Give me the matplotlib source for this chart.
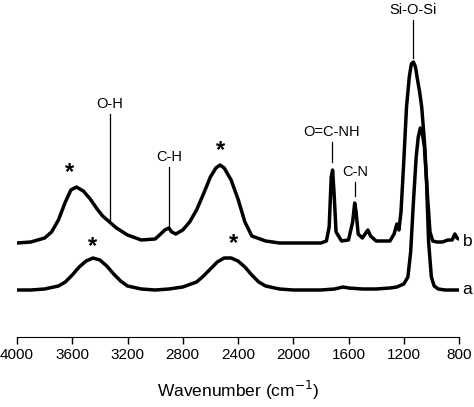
import numpy as np
import matplotlib.pyplot as plt

plt.rcParams['font.family'] = ['Liberation Sans', 'DejaVu Sans']

# spectrum a (lower curve), wavenumber vs. signal (arb. units)
wn_a = [4000, 3900, 3800, 3700, 3650, 3600, 3550, 3500, 3450, 3400, 3350, 3300, 3250, 3200,
        3100, 3000, 2900, 2800, 2700, 2650, 2600, 2550, 2500, 2450, 2400, 2350, 2300, 2250,
        2200, 2100, 2000, 1900, 1800, 1700, 1640, 1600, 1500, 1400, 1300, 1250, 1200, 1170,
        1150, 1130, 1110, 1095, 1080, 1065, 1050, 1035, 1020, 1000, 980, 950, 900, 850, 800]
ab_a = [72, 72, 73, 76, 80, 87, 95, 101, 104, 102, 96, 88, 81, 76,
        73, 72, 73, 75, 80, 86, 93, 100, 104, 104, 101, 95, 87, 80,
        76, 73, 72, 72, 72, 73, 75, 74, 73, 73, 74, 75, 78, 85,
        110, 160, 205, 225, 234, 228, 215, 180, 120, 85, 76, 73, 72, 72, 72]

# spectrum b (upper curve)
wn_b = [4000, 3900, 3800, 3750, 3700, 3650, 3610, 3570, 3520, 3470, 3420, 3380, 3330, 3280,
        3200, 3100, 3000, 2960, 2930, 2900, 2880, 2850, 2800, 2750, 2700, 2650, 2600, 2560,
        2530, 2500, 2450, 2400, 2350, 2300, 2200, 2100, 2000, 1900, 1800, 1760, 1740, 1725,
        1715, 1705, 1690, 1650, 1600, 1570, 1555, 1545, 1530, 1500, 1460, 1440, 1400, 1300,
        1270, 1250, 1235, 1220, 1200, 1180, 1160, 1145, 1130, 1115, 1100, 1085, 1070, 1050,
        1030, 1010, 990, 960, 920, 880, 850, 830, 815, 800]
ab_b = [119, 120, 124, 130, 142, 160, 172, 175, 171, 163, 153, 146, 140, 134,
        127, 122, 123, 128, 132, 134, 130, 128, 132, 140, 152, 168, 185, 194,
        197, 194, 182, 163, 140, 126, 121, 119, 119, 119, 119, 121, 135, 185,
        192, 170, 130, 121, 122, 140, 159, 150, 128, 124, 132, 126, 121, 121,
        128, 138, 132, 150, 200, 255, 285, 298, 300, 295, 282, 270, 255, 220,
        170, 130, 121, 120, 120, 122, 122, 128, 124, 123]

# annotations: label, wavenumber, label y, line top, line bottom
labels = ["O-H", "C-H", "O=C-NH", "C-N", "Si-O-Si"]
label_wn = [3330, 2900, 1720, 1550, 1130]
label_y = [258, 205, 230, 190, 352]
line_top = [248, 195, 220, 180, 342]
line_bot = [140, 134, 200, 166, 304]
star_wn = [3620, 2530, 3450, 2430]
star_y = [178, 200, 104, 107]

fig = plt.figure(figsize=(4.74, 4.07), dpi=100)
ax = fig.add_axes([17 / 474, 70 / 407, 442 / 474, 337 / 407])
ax.plot(wn_a, ab_a, color='black', lw=2.5)
ax.plot(wn_b, ab_b, color='black', lw=2.5)

for lab, w, ty, t, b in zip(labels, label_wn, label_y, line_top, line_bot):
    ax.plot([w, w], [b, t], color='black', lw=0.9)
    ax.text(w, ty, lab, ha='center', va='center', fontsize=10.5)
for w, y in zip(star_wn, star_y):
    ax.text(w, y, '*', ha='center', va='bottom', fontsize=17, fontweight='bold')
ax.text(775, 121, 'b', ha='left', va='center', fontsize=12.5, clip_on=False)
ax.text(775, 72, 'a', ha='left', va='center', fontsize=12.5, clip_on=False)

ax.set_xlim(4000, 800)
ax.set_ylim(25, 362)
ax.set_xticks(np.arange(4000, 799, -400))
ax.tick_params(axis='x', direction='out', length=5, width=1, labelsize=11, pad=3)
ax.set_yticks([])
for s in ['left', 'right', 'top']:
    ax.spines[s].set_visible(False)
ax.set_xlabel('Wavenumber (cm$^{-1}$)', fontsize=12.5, labelpad=12)

fig.savefig('out.png', dpi=100)
